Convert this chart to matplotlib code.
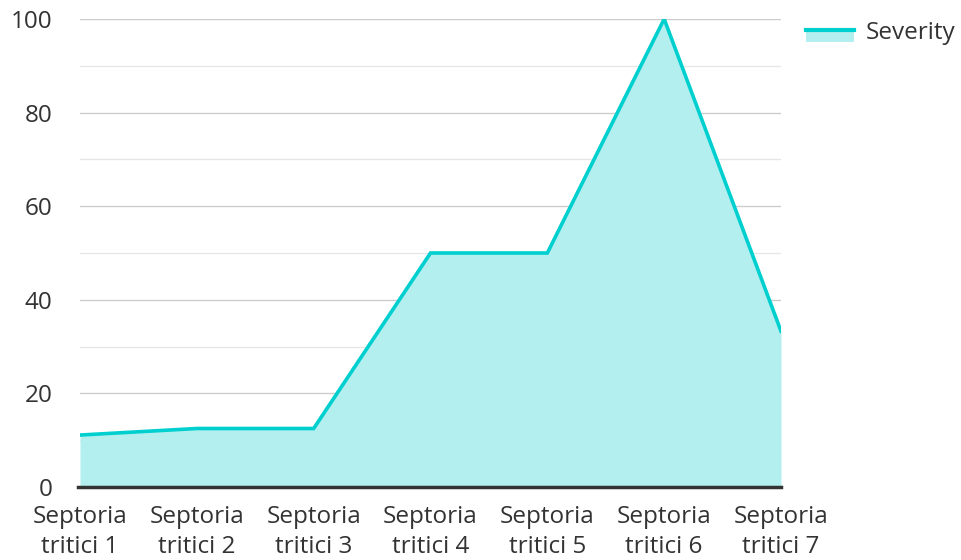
import matplotlib
matplotlib.use("Agg")
import matplotlib.pyplot as plt
from matplotlib.patches import Rectangle
from matplotlib.lines import Line2D
from matplotlib.legend_handler import HandlerBase

plt.rcParams['font.family'] = ['Open Sans', 'DejaVu Sans']

categories = ["Septoria\ntritici 1", "Septoria\ntritici 2", "Septoria\ntritici 3",
              "Septoria\ntritici 4", "Septoria\ntritici 5", "Septoria\ntritici 6",
              "Septoria\ntritici 7"]
severity = [11.1, 12.5, 12.5, 50, 50, 100, 33.3]
y_ticks = [0, 20, 40, 60, 80, 100]

line_color = "#00cfcf"
fill_color = "#b2efee"
text_color = "#333333"
fs = 17.5

fig = plt.figure(figsize=(9.62, 5.6), dpi=100)
ax = fig.add_axes([80 / 962, 73 / 560, 701 / 962, 468 / 560])

x = list(range(len(categories)))
ax.fill_between(x, 0, severity, color=fill_color, linewidth=0, zorder=2)
ax.plot(x, severity, color=line_color, linewidth=2.6, zorder=3, solid_joinstyle='miter')

ax.set_xlim(0, len(categories) - 1)
ax.set_ylim(0, 100)

for v in range(10, 100, 20):
    ax.axhline(v, color="#e6e6e6", linewidth=1, zorder=1)
for v in y_ticks[1:]:
    ax.axhline(v, color="#cccccc", linewidth=1, zorder=1)
ax.axhline(0, xmin=-0.003, color="#333333", linewidth=2.5, zorder=4, clip_on=False)

ax.set_yticks(y_ticks)
ax.set_yticklabels([str(t) for t in y_ticks], fontsize=fs, color=text_color)
ax.set_xticks(x)
ax.set_xticklabels(categories, fontsize=fs, color=text_color, linespacing=1.35)
ax.tick_params(axis='both', length=0)
ax.tick_params(axis='y', pad=20)
ax.tick_params(axis='x', pad=13)
for s in ax.spines.values():
    s.set_visible(False)


class AreaLineHandler(HandlerBase):
    """Filled swatch with the series line along its top edge."""

    def create_artists(self, legend, orig_handle, xdescent, ydescent,
                       width, height, fontsize, trans):
        h = height * 0.85
        y0 = -ydescent + (height - h) / 2 - 3.4
        rect = Rectangle((-xdescent, y0), width, h, facecolor=fill_color,
                         edgecolor='none', transform=trans)
        line = Line2D([-xdescent, -xdescent + width], [y0 + h * 0.88] * 2,
                      color=line_color, linewidth=3, transform=trans)
        return [rect, line]


proxy = Rectangle((0, 0), 1, 1)
leg = fig.legend([proxy], ["Severity"], loc='upper left',
                 bbox_to_anchor=(784 / 962, 1 + 1 / 560), frameon=False,
                 fontsize=fs, handlelength=2.0, handletextpad=0.45,
                 handler_map={Rectangle: AreaLineHandler()})
for t in leg.get_texts():
    t.set_color(text_color)

fig.savefig("out.png", dpi=100)
